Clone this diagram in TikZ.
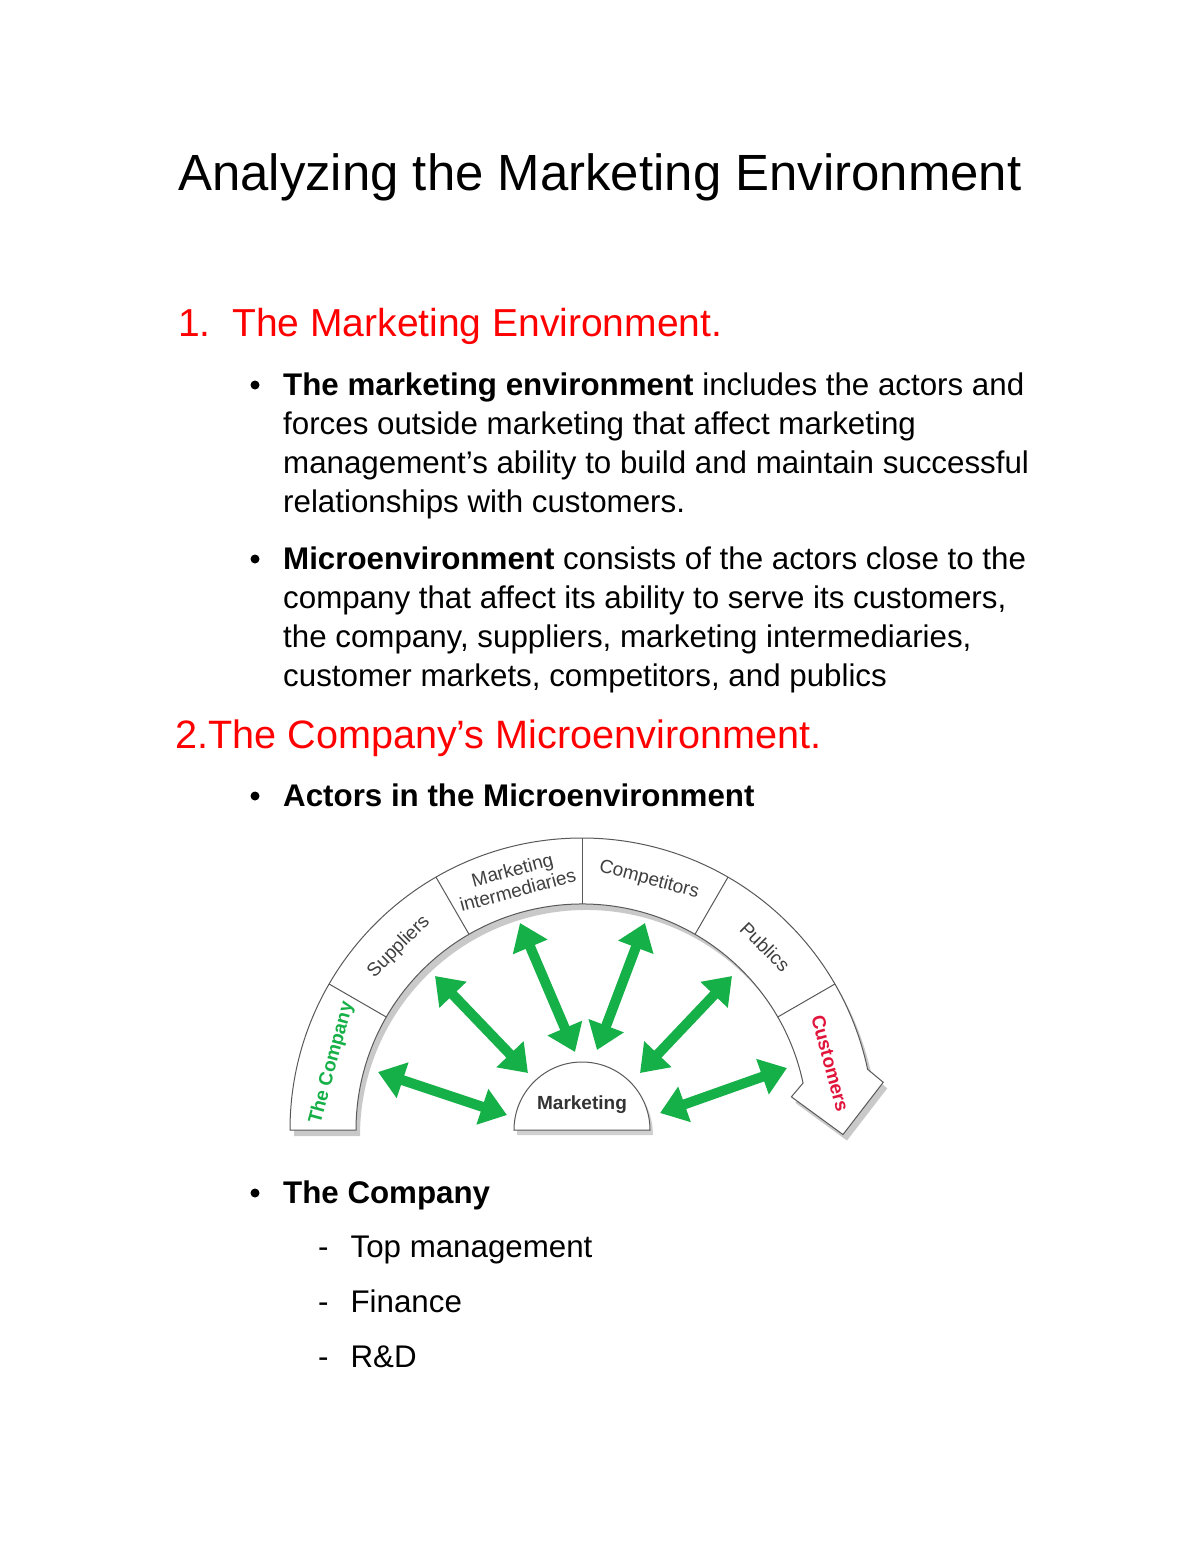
\documentclass[tikz,border=0pt]{standalone}
\usepackage{fontspec}
\setmainfont{Liberation Sans}
\usetikzlibrary{arrows.meta,shadows}
\definecolor{arrowgreen}{RGB}{22,176,72}
\definecolor{custred}{RGB}{225,20,60}
\definecolor{headred}{RGB}{255,0,0}
\tikzset{
  body/.style={anchor=base west,inner sep=0pt,font=\fontsize{31.3}{36}\selectfont},
  head/.style={anchor=base west,inner sep=0pt,text=headred,font=\fontsize{39}{46}\selectfont},
  bul/.style={circle,fill=black,inner sep=0pt,minimum size=9pt},
  seglabel/.style={font=\fontsize{19}{21}\selectfont,text=black!75,align=center,inner sep=0pt},
  band/.style={fill=white,draw=black!65,line width=1pt},
  garrow/.style={draw=arrowgreen,line width=10pt,{Triangle[width=36pt,length=26pt]}-{Triangle[width=36pt,length=26pt]}},
}
\begin{document}
\begin{tikzpicture}[x=1pt,y=1pt]
\useasboundingbox (0,0) rectangle (1200,-1553);
\fill[white] (0,0) rectangle (1200,-1553);
\node[anchor=base west,inner sep=0pt,font=\fontsize{50.9}{60}\selectfont] (title) at (178,-190) {Analyzing the Marketing Environment};
\node[head] (h1) at (178,-336) {1.\ \ The Marketing Environment.};
\node[bul] (b1) at (255,-385) {};
\node[body] (l1) at (283,-395) {\textbf{The marketing environment} includes the actors and};
\node[body] (l2) at (283,-434) {forces outside marketing that affect marketing};
\node[body] (l3) at (283,-473) {management’s ability to build and maintain successful};
\node[body] (l4) at (283,-512) {relationships with customers.};
\node[bul] (b2) at (255,-559) {};
\node[body] (l5) at (283,-569) {\textbf{Microenvironment} consists of the actors close to the};
\node[body] (l6) at (283,-608) {company that affect its ability to serve its customers,};
\node[body] (l7) at (283,-647) {the company, suppliers, marketing intermediaries,};
\node[body] (l8) at (283,-686) {customer markets, competitors, and publics};
\node[head,font=\fontsize{39.6}{46}\selectfont] (h2) at (175,-748) {2.The Company’s Microenvironment.};
\node[bul] (b3) at (255,-796) {};
\node[body] (l9) at (283,-806) {\textbf{Actors in the Microenvironment}};
\node[bul] (b4) at (255,-1193) {};
\node[body] (l10) at (283,-1203) {\textbf{The Company}};
\node[body] (d1) at (318,-1257) {-\hspace{22pt}Top management};
\node[body] (d2) at (318,-1312) {-\hspace{22pt}Finance};
\node[body] (d3) at (318,-1367) {-\hspace{22pt}R\&D};
\begin{scope}[shift={(582,-1130)}]
  \path[band,drop shadow={shadow xshift=4pt,shadow yshift=-6pt,opacity=0.35,fill=black!60}]
    (180:226) -- (180:292) arc[start angle=180,end angle=12,radius=292]
    -- (9:305) -- (-1:261) -- (9:212) -- (12:226)
    arc[start angle=12,end angle=180,radius=226] -- cycle;
  \foreach \a in {150,120,90,60,30} \draw[black!65,line width=1pt] (\a:226) -- (\a:292);
  \node[seglabel,rotate=75,text=arrowgreen,font=\bfseries\fontsize{19}{21}\selectfont] (comp) at (165:259) {The Company};
  \node[seglabel,rotate=45] (supp) at (135:259) {Suppliers};
  \node[seglabel,rotate=15] (mi) at (105:259) {Marketing\\intermediaries};
  \node[seglabel,rotate=-15] (cmp) at (75:259) {Competitors};
  \node[seglabel,rotate=-45] (pub) at (45:259) {Publics};
  \node[seglabel,rotate=-75,text=custred,font=\bfseries\fontsize{19}{21}\selectfont] (cust) at (15:257) {Customers};
  \path[band,drop shadow={shadow xshift=3pt,shadow yshift=-5pt,opacity=0.3,fill=black!60}]
    (-68,0) arc[start angle=180,end angle=0,radius=68] -- cycle;
  \node[font=\bfseries\fontsize{19}{21}\selectfont,text=black!80] (mkt) at (0,25) {Marketing};
\end{scope}
\coordinate (a1s) at (378,-1072); \coordinate (a1e) at (507,-1115);
\coordinate (a2s) at (435,-976);  \coordinate (a2e) at (528,-1073);
\coordinate (a3s) at (520,-923);  \coordinate (a3e) at (575,-1052);
\coordinate (a4s) at (645,-923);  \coordinate (a4e) at (597,-1050);
\coordinate (a5s) at (732,-976);  \coordinate (a5e) at (640,-1073);
\coordinate (a6s) at (787,-1068); \coordinate (a6e) at (660,-1113);
\foreach \i in {1,...,6} \draw[garrow] (a\i s) -- (a\i e);
\end{tikzpicture}
\end{document}
